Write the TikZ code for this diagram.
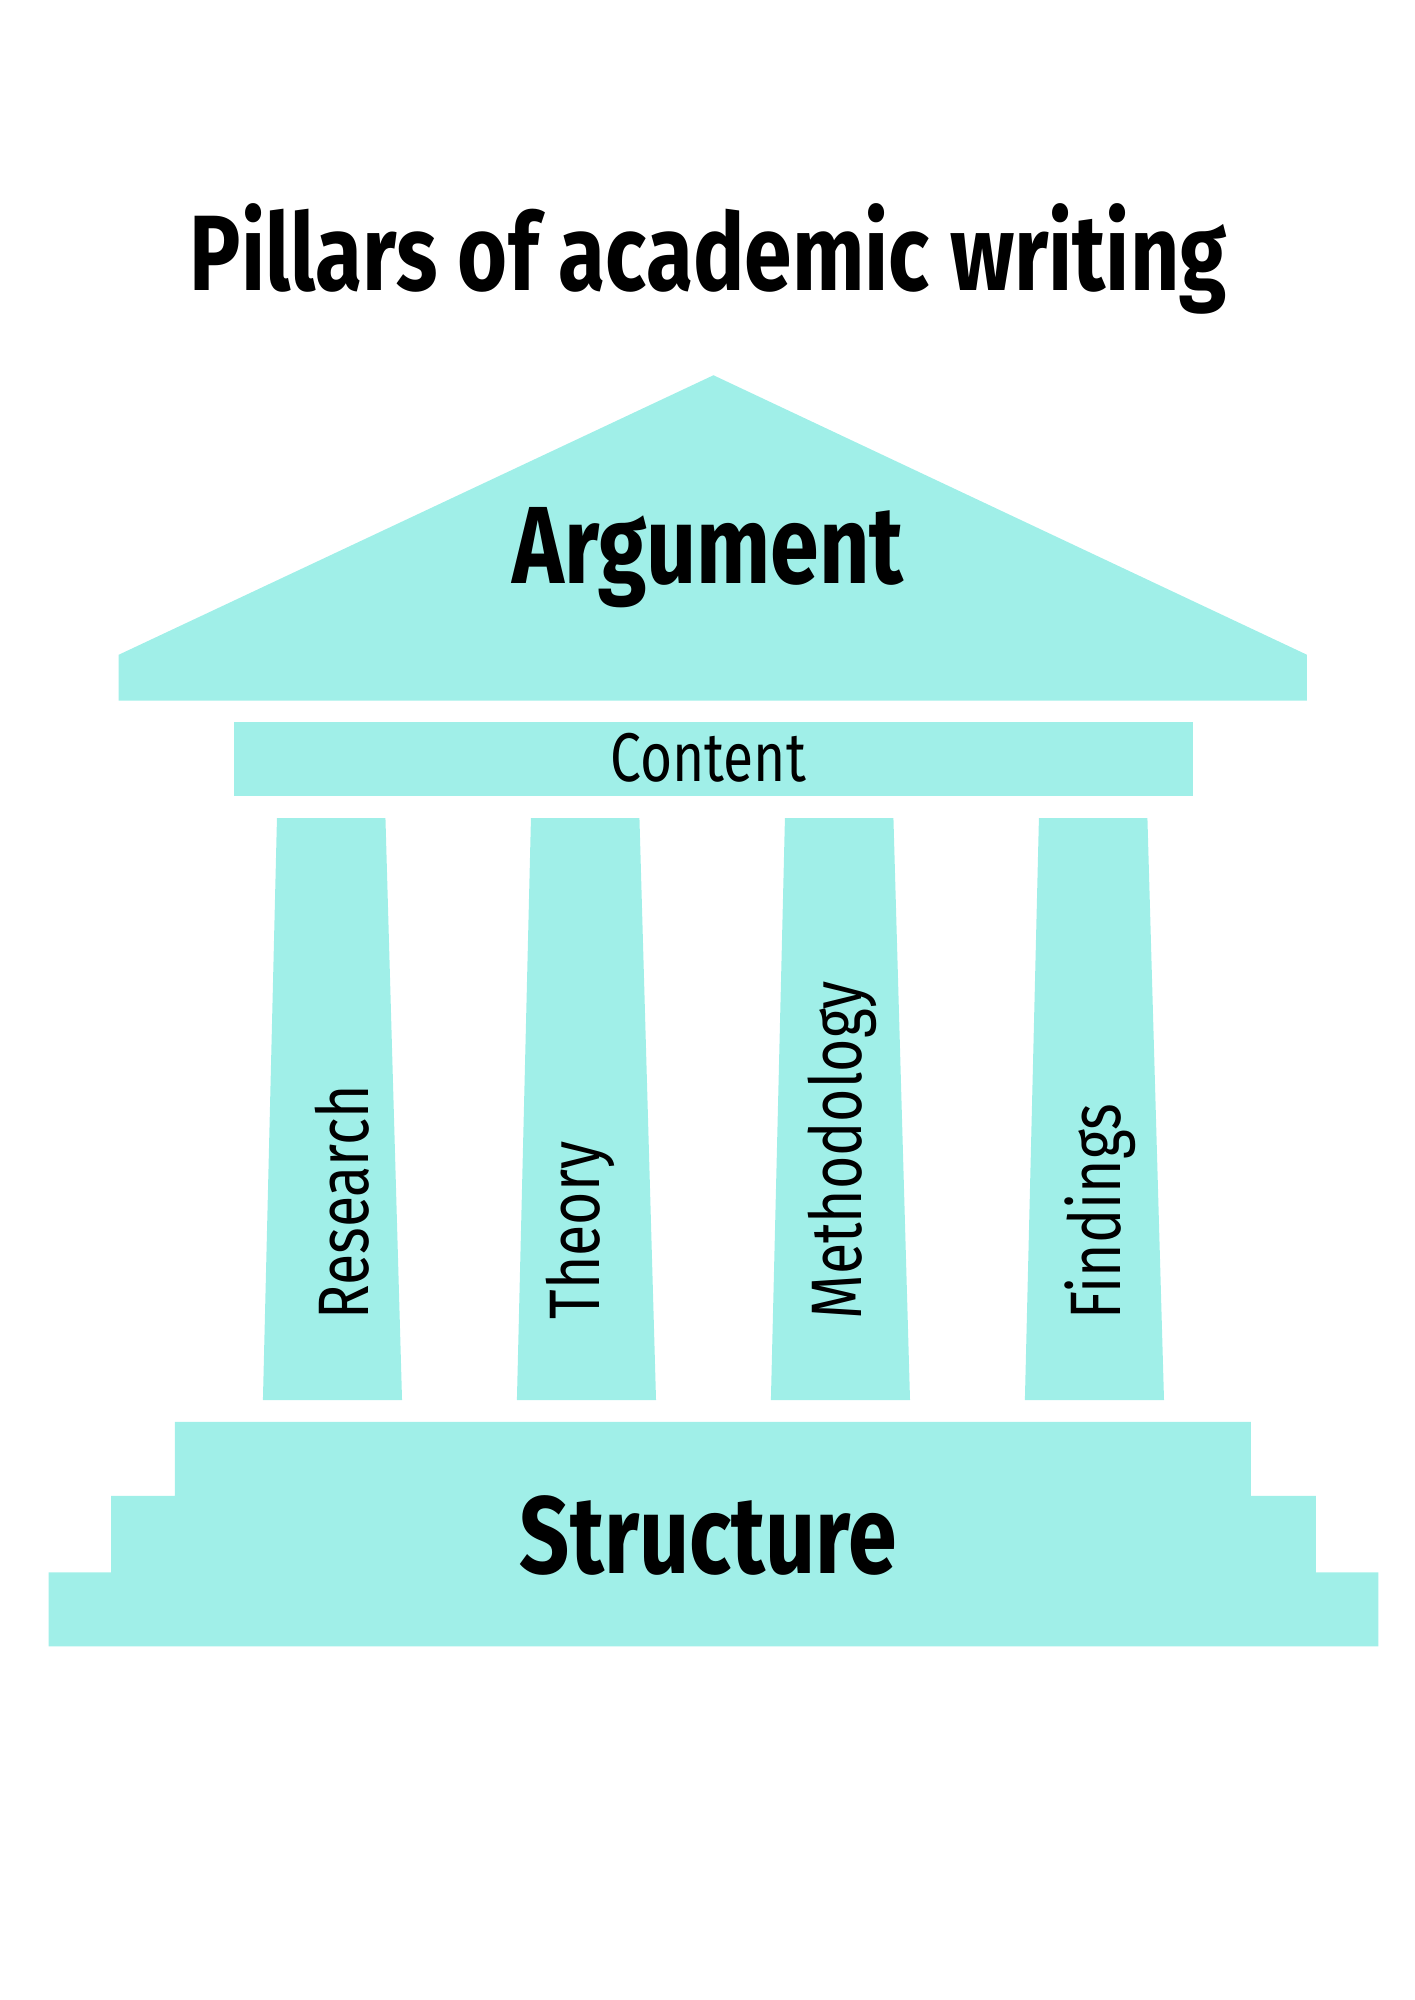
\documentclass[tikz,border=0pt]{standalone}
\usepackage{fontspec}
\setmainfont[FakeStretch=0.8]{Fira Sans}
\definecolor{aqua}{HTML}{A0EFE8}
\begin{document}
\begin{tikzpicture}[x=1pt,y=-1pt,
  part/.style={fill=aqua,draw=none},
  lbl/.style={inner sep=0pt,font=\fontsize{54}{60}\selectfont},
  collbl/.style={inner sep=0pt,rotate=90,anchor=west,font=\fontsize{56}{60}\selectfont}]
\useasboundingbox (0,0) rectangle (1108,1567);
\fill[part] (93,549)--(93,513)--(559,294)--(1024,513)--(1024,549)--cycle;
\fill[part] (183,566) rectangle (935,624);
\foreach \a/\b in {217/206,416/405,615/604,814/803}{
  \fill[part] (\a,641)--(\a+85,641)--(\b+109,1097)--(\b,1097)--cycle;}
\fill[part] (137,1114)--(980,1114)--(980,1172)--(1031,1172)--(1031,1232)--(1080,1232)--(1080,1290)--(38,1290)--(38,1232)--(87,1232)--(87,1172)--(137,1172)--cycle;
\node[inner sep=0pt,font=\fontsize{84}{90}\selectfont\bfseries] (title) at (555,203) {Pillars of academic writing};
\node[inner sep=0pt,font=\fontsize{86}{90}\selectfont\bfseries] (arg) at (555,437) {Argument};
\node[lbl] (content) at (555,594) {Content};
\node[inner sep=0pt,font=\fontsize{86}{90}\selectfont\bfseries] (struct) at (555,1203) {Structure};
\node[collbl] (r) at (268,1034) {Research};
\node[collbl] (t) at (455,1034) {Theory};
\node[collbl] (m) at (660,1034) {Methodology};
\node[collbl] (f) at (862,1034) {Findings};
\end{tikzpicture}
\end{document}
